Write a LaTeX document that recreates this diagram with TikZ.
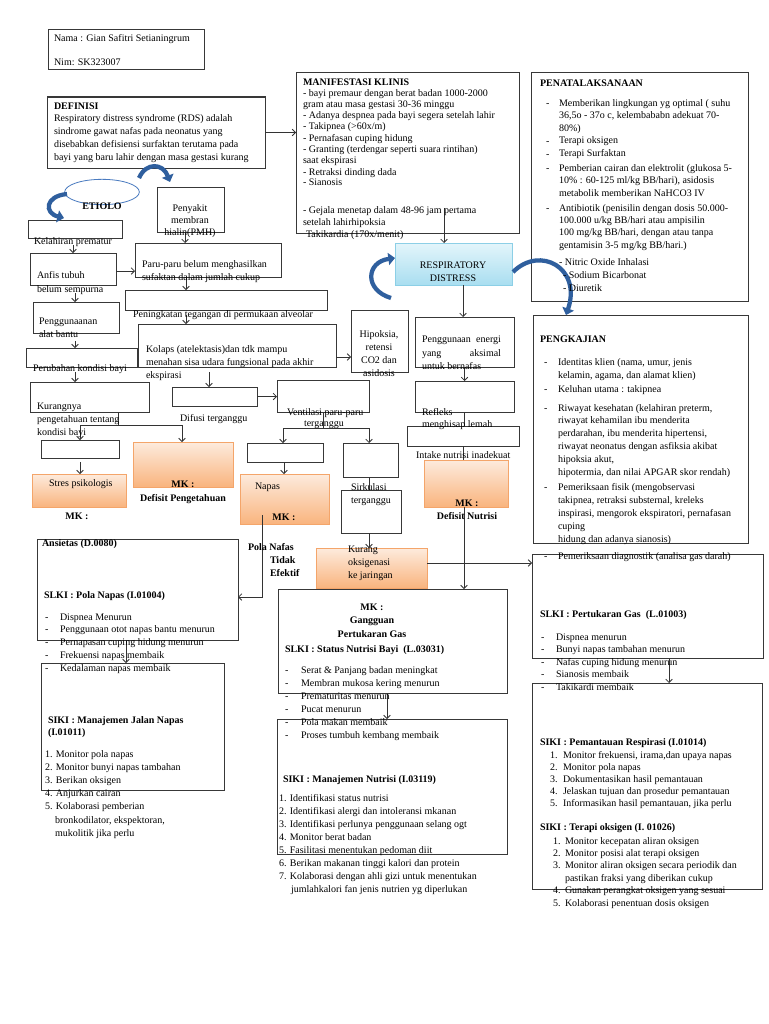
\documentclass[tikz,border=0pt]{standalone}
\usepackage{fontspec}
\setmainfont{Liberation Serif}
\usetikzlibrary{arrows.meta,shapes.geometric}
\definecolor{orgtop}{HTML}{FDEBDD}
\definecolor{orgbot}{HTML}{F9B47E}
\definecolor{orgline}{HTML}{F4A56A}
\definecolor{bluetop}{HTML}{E3F5FB}
\definecolor{bluebot}{HTML}{A9DEF0}
\definecolor{blueline}{HTML}{8CCFE6}
\definecolor{arcblue}{HTML}{2F5F9E}
\definecolor{ellblue}{HTML}{4A7BC0}
\tikzset{
  boxst/.style={draw=black!78, line width=0.75pt, inner sep=0pt, outer sep=0pt},
  orgbox/.style={draw=orgline, top color=orgtop, bottom color=orgbot},
  bluebox/.style={draw=blueline, top color=bluetop, bottom color=bluebot},
  txt/.style={anchor=base west, inner sep=0pt, outer sep=0pt, font=\fontsize{7.5}{9}\selectfont},
  ctr/.style={anchor=base},
  rgt/.style={anchor=base east},
  arr/.style={draw=black!80, line width=0.6pt, -{Straight Barb[length=2.5pt,width=5pt]}},
  ln/.style={draw=black!80, line width=0.6pt},
  bigarc/.style={draw=arcblue, line width=3.2pt, -{Triangle[length=5pt,width=9pt]}}
}
% box: [style]{name}{x1}{y1}{x2}{y2}
\newcommand\bx[6][]{\node[boxst,#1,minimum width={(#5-#3)*0.75pt},minimum height={(#6-#4)*0.75pt}] (#2) at ({(#3+#5)/2},{(#4+#6)/2}) {};}
% text lines: [style]{x}{first baseline}{spacing}{{line},{line}}
\newcommand\tl[5][]{\foreach \myl [count=\ii from 0] in {#5}{\node[txt,#1] at ({#2},{#3+\ii*#4}) {\myl};}}
\begin{document}
\begin{tikzpicture}[x=0.75pt,y=-0.75pt]
\useasboundingbox (0,0) rectangle (768,1024);
\fill[white] (0,0) rectangle (768,1024);

% ---------- boxes ----------
\bx{nama}{48}{30}{204}{70}
\bx{defn}{47}{97}{265}{168}
\bx{manif}{296}{73}{519}{233}
\bx{pena}{531}{73}{748}{301}
\bx[bluebox]{resp}{395}{243}{512}{285}
\bx{peny}{157}{187}{224}{232}
\node[ellipse, draw=ellblue, line width=0.6pt, minimum width=56pt, minimum height=19pt, inner sep=0pt] (etio) at (102,192) {};
\bx{kel}{28}{220}{122}{238}
\bx{anfis}{30}{253}{116}{285}
\bx{paru}{135}{243}{281}{277}
\bx{pening}{125}{290}{327}{310}
\bx{alat}{33}{302}{119}{333}
\bx{kolaps}{138}{324}{336}{367}
\bx{hip}{351}{310}{408}{372}
\bx{energi}{415}{317}{514}{367}
\bx{perub}{26}{348}{137}{367}
\bx{kurang}{30}{382}{149}{412}
\bx{difusi}{172}{387}{257}{406}
\bx{vent}{277}{380}{369}{412}
\bx{refl}{415}{381}{514}{412}
\bx{intake}{407}{426}{519}{446}
\bx{boxa}{41}{440}{119}{458}
\bx[orgbox]{defpeng}{133}{442}{233}{487}
\bx{boxb}{247}{443}{323}{462}
\bx{boxc}{343}{443}{398}{477}
\bx[orgbox]{defnut}{424}{460}{508}{507}
\bx[orgbox]{stres}{32}{474}{126}{507}
\bx[orgbox]{napas}{240}{474}{329}{524}
\bx{sirk}{341}{490}{401}{533}
\bx[orgbox]{kurox}{316}{548}{427}{588}
\bx{ansi}{37}{539}{238}{640}
\bx{pengk}{533}{315}{748}{543}
\bx{slkigas}{532}{554}{763}{658}
\bx{gang}{278}{589}{507}{693}
\bx{sikijn}{41}{663}{224}{790}
\bx{sikinut}{277}{719}{507}{854}
\bx{sikiresp}{532}{683}{762}{889}

% ---------- connectors ----------
\draw[arr] (defn.east) -- (defn.east -| manif.west);
\coordinate (m1) at (444,208);
\draw[arr] (m1) -- (m1 |- resp.north);
\coordinate (r1) at (463,285);
\draw[arr] (r1) -- (r1 |- energi.north);
\draw[arr] (energi.south) -- (refl.north);
\draw[ln] (refl.south) -- (refl.south |- intake.north);
\draw[ln] (intake.south) -- (intake.south |- defnut.north);
\coordinate (d1) at (464,507);
\draw[arr] (d1) -- (d1 |- gang.north);
\coordinate (g1) at (387,693);
\draw[arr] (g1) -- (g1 |- sikinut.north);
\coordinate (py1) at (185,232);
\draw[arr] (py1) -- (py1 |- paru.north);
\coordinate (k1) at (73,245);
\draw[arr] (k1) -- (k1 |- anfis.north);
\coordinate (a1) at (116,271);
\draw[arr] (a1) -- (a1 -| paru.west);
\coordinate (p1) at (186,278);
\draw[arr] (p1) -- (p1 |- pening.north);
\coordinate (p2) at (186,315);
\draw[arr] (p2) -- (p2 |- kolaps.north);
\coordinate (l1) at (75,293);
\draw[arr] (l1) -- (l1 |- alat.north);
\coordinate (l2) at (75,341);
\draw[arr] (l2) -- (l2 |- perub.north);
\coordinate (l3) at (75,372);
\draw[arr] (l3) -- (l3 |- kurang.north);
\coordinate (ks) at (118,412);
\coordinate (kj) at (118,425);
\coordinate (kl) at (80,425);
\coordinate (kr) at (182,425);
\draw[ln] (ks) -- (kj);
\draw[ln] (kl) -- (kr);
\draw[arr] (kl) -- (kl |- boxa.north);
\draw[arr] (kr) -- (kr |- defpeng.north);
\coordinate (s1) at (80,462);
\draw[arr] (s1) -- (s1 |- stres.north);
\coordinate (h1) at (336,357);
\draw[arr] (h1) -- (h1 -| hip.west);
\coordinate (f1) at (209,372);
\draw[arr] (f1) -- (f1 |- difusi.north);
\draw[arr] (difusi.east) -- (difusi.east -| vent.west);
\coordinate (vs) at (323,412);
\coordinate (vj) at (323,428);
\coordinate (vl) at (283,428);
\coordinate (vr) at (369,428);
\draw[ln] (vs) -- (vj);
\draw[ln] (vl) -- (vr);
\draw[arr] (vl) -- (vl |- boxb.north);
\draw[arr] (vr) -- (vr |- boxc.north);
\coordinate (b1) at (284,462);
\draw[arr] (b1) -- (b1 |- napas.north);
\coordinate (c1) at (369,477);
\draw[ln] (c1) -- (c1 |- sirk.north);
\coordinate (c2) at (369,533);
\draw[arr] (c2) -- (c2 |- kurox.north);
\coordinate (o1) at (427,563);
\draw[arr] (o1) -- (o1 -| slkigas.west);
\coordinate (n1) at (262,515);
\coordinate (n2) at (262,597);
\draw[arr] (n1) -- (n2) -- (n2 -| ansi.east);
\coordinate (an1) at (126,640);
\draw[arr] (an1) -- (an1 |- sikijn.north);
\coordinate (sg1) at (669,658);
\draw[arr] (sg1) -- (sg1 |- sikiresp.north);

% ---------- big blue curved arrows ----------
\draw[bigarc] (139,178) .. controls (146,162) and (163,163) .. (170,182);
\draw[bigarc] (67,194) .. controls (45,196) and (44,213) .. (64,218);
\draw[bigarc] (391,298) .. controls (364,290) and (366,262) .. (395,258);
\draw[bigarc] (513,272) .. controls (540,245) and (582,268) .. (566,315);

% ---------- texts ----------
\tl{54}{42}{23}{{Nama : Gian Safitri Setianingrum},{Nim: SK323007}}
\tl{54}{109}{0}{{\bfseries DEFINISI}}
\tl{54}{122}{12.7}{{Respiratory distress syndrome (RDS) adalah},{sindrome gawat nafas pada neonatus yang},{disebabkan defisiensi surfaktan terutama pada},{bayi yang baru lahir dengan masa gestasi kurang}}

\tl{303}{85}{0}{{\bfseries MANIFESTASI KLINIS}}
\tl{303}{96}{11.3}{{- bayi premaur dengan berat badan 1000-2000},{gram atau masa gestasi 30-36 minggu},{- Adanya despnea pada bayi segera setelah lahir},{- Takipnea (>60x/m)},{- Pernafasan cuping hidung},{- Granting (terdengar seperti suara rintihan)},{saat ekspirasi},{- Retraksi dinding dada}}
\tl{303}{185}{0}{{- Sianosis}}
\tl{303}{213}{12}{{- Gejala menetap dalam 48-96 jam pertama},{setelah lahirhipoksia}}
\tl{306}{237}{0}{{Takikardia (170x/menit)}}

\tl{540}{86}{0}{{\bfseries PENATALAKSANAAN}}
\foreach \yy in {106,144,157,171,211}{\node[txt] at (546,\yy) {-};}
\tl{559}{106}{12.6}{{Memberikan lingkungan yg optimal ( suhu},{36,5o - 37o c, kelembababn adekuat 70-},{80\%)},{Terapi oksigen},{Terapi Surfaktan}}
\tl{559}{171}{12.7}{{Pemberian cairan dan elektrolit (glukosa 5-},{10\% : 60-125 ml/kg BB/hari), asidosis},{metabolik memberikan NaHCO3 IV}}
\tl{559}{211}{12.4}{{Antibiotik (penisilin dengan dosis 50.000-},{100.000 u/kg BB/hari atau ampisilin},{100 mg/kg BB/hari, dengan atau tanpa},{gentamisin 3-5 mg/kg BB/hari.)}}
\tl{559}{265}{0}{{- Nitric Oxide Inhalasi}}
\tl{563}{278}{13}{{- Sodium Bicarbonat},{- Diuretik}}

\tl{540}{342}{0}{{\bfseries PENGKAJIAN}}
\foreach \yy in {365,392,411,490,559}{\node[txt] at (544,\yy) {-};}
\tl{558}{365}{13}{{Identitas klien (nama, umur, jenis},{kelamin, agama, dan alamat klien)}}
\tl{558}{392}{0}{{Keluhan utama : takipnea}}
\tl{558}{411}{12.8}{{Riwayat kesehatan (kelahiran preterm,},{riwayat kehamilan ibu menderita},{perdarahan, ibu menderita hipertensi,},{riwayat neonatus dengan asfiksia akibat},{hipoksia akut,},{hipotermia, dan nilai APGAR skor rendah)}}
\tl{558}{490}{13.2}{{Pemeriksaan fisik (mengobservasi},{takipnea, retraksi substernal, kreleks},{inspirasi, mengorok ekspiratori, pernafasan},{cuping},{hidung dan adanya sianosis)}}
\tl{558}{559}{0}{{Pemeriksaan diagnostik (analisa gas darah)}}

\tl{540}{617}{0}{{\bfseries SLKI : Pertukaran Gas\ \ (L.01003)}}
\tl{541}{640}{12.5}{-,-,-,-,-}
\tl{556}{640}{12.5}{{Dispnea menurun},{Bunyi napas tambahan menurun},{Nafas cuping hidung menurun},{Sianosis membaik},{Takikardi membaik}}

\tl{540}{745}{0}{{\bfseries SIKI : Pemantauan Respirasi (I.01014)}}
\tl{550}{758}{12.2}{1.,2.,3.,4.,5.}
\tl{563}{758}{12.2}{{Monitor frekuensi, irama,dan upaya napas},{Monitor pola napas},{Dokumentasikan hasil pemantauan},{Jelaskan tujuan dan prosedur pemantauan},{Informasikan hasil pemantauan, jika perlu}}
\tl{540}{830}{0}{{\bfseries SIKI : Terapi oksigen (I. 01026)}}
\tl{553}{844}{12.4}{1.,2.,3.}
\tl{553}{893.6}{12.4}{4.,5.}
\tl{565}{844}{12.4}{{Monitor kecepatan aliran oksigen},{Monitor posisi alat terapi oksigen},{Monitor aliran oksigen secara periodik dan},{pastikan fraksi yang diberikan cukup},{Gunakan perangkat oksigen yang sesuai},{Kolaborasi penentuan dosis oksigen}}

\tl[ctr]{372}{610}{13.5}{{\bfseries MK :},{\bfseries Gangguan},{\bfseries Pertukaran Gas}}
\tl{285}{652}{0}{{\bfseries SLKI : Status Nutrisi Bayi\ \ (L.03031)}}
\tl{285}{673}{13}{-,-,-,-,-,-}
\tl{301}{673}{13}{{Serat \& Panjang badan meningkat},{Membran mukosa kering menurun},{Prematuritas menurun},{Pucat menurun},{Pola makan membaik},{Proses tumbuh kembang membaik}}

\tl{283}{782}{0}{{\bfseries SIKI : Manajemen Nutrisi (I.03119)}}
\tl{279}{801}{13}{{1. Identifikasi status nutrisi},{2. Identifikasi alergi dan intoleransi mkanan},{3. Identifikasi perlunya penggunaan selang ogt},{4. Monitor berat badan},{5. Fasilitasi menentukan pedoman diit},{6. Berikan makanan tinggi kalori dan protein},{7. Kolaborasi dengan ahli gizi untuk menentukan}}
\tl{291}{892}{0}{{jumlahkalori fan jenis nutrien yg diperlukan}}

\tl{34}{244}{0}{{Kelahiran prematur}}
\tl{37}{278}{14}{{Anfis tubuh},{belum sempurna}}
\tl{39}{324}{13}{{Penggunaanan},{alat bantu}}
\tl{33}{371}{0}{{Perubahan kondisi bayi}}
\tl{37}{409}{13}{{Kurangnya},{pengetahuan tentang},{kondisi bayi}}
\tl{49}{486}{0}{{Stres psikologis}}
\tl[ctr]{77}{519}{0}{{\bfseries MK :}}
\tl[ctr]{183}{487}{14}{{\bfseries MK :},{\bfseries Defisit Pengetahuan}}

\tl{42}{546}{0}{{\bfseries Ansietas (D.0080)}}
\tl{44}{598}{0}{{\bfseries SLKI : Pola Napas (I.01004)}}
\tl{45}{620}{12.75}{-,-,-,-,-}
\tl{60}{620}{12.75}{{Dispnea Menurun},{Penggunaan otot napas bantu menurun},{Pernapasan cuping hidung menurun},{Frekuensi napas membaik},{Kedalaman napas membaik}}
\tl{48}{723}{12}{{\bfseries SIKI : Manajemen Jalan Napas},{\bfseries (I.01011)}}
\tl{45}{757}{13.2}{{1. Monitor pola napas},{2. Monitor bunyi napas tambahan},{3. Berikan oksigen},{4. Anjurkan cairan},{5. Kolaborasi pemberian}}
\tl{55}{823}{13}{{bronkodilator, ekspektoran,},{mukolitik jika perlu}}

\tl[ctr]{190}{211}{12}{{Penyakit},{membran},{hialin(PMH)}}
\tl[ctr]{102}{209}{0}{{\bfseries ETIOLO}}
\tl{142}{267}{13}{{Paru-paru belum menghasilkan},{sufaktan dalam jumlah cukup}}
\tl{133}{317}{0}{{Peningkatan tegangan di permukaan alveolar}}
\tl{146}{352}{13}{{Kolaps (atelektasis)dan tdk mampu},{menahan sisa udara fungsional pada akhir},{ekspirasi}}
\tl[ctr]{379}{337}{13}{{Hipoksia,},{retensi},{CO2 dan},{asidosis}}
\tl{180}{421}{0}{{Difusi terganggu}}
\tl{287}{415}{0}{{Ventilasi paru-paru}}
\tl{304}{426}{0}{{terganggu}}
\tl{255}{489}{0}{{Napas}}
\tl[ctr]{284}{520}{0}{{\bfseries MK :}}
\tl{248}{550}{0}{{\bfseries Pola Nafas}}
\tl{270}{563}{13}{{\bfseries Tidak},{\bfseries Efektif}}
\tl{351}{490}{13}{{Sirkulasi},{terganggu}}
\tl{348}{552}{13}{{Kurang},{oksigenasi},{ke jaringan}}
\tl[ctr]{453}{268}{13}{{RESPIRATORY},{DISTRESS}}
\tl{422}{342}{0}{{Penggunaan}}
\tl[rgt]{501}{342}{0}{{energi}}
\tl{422}{356}{0}{{yang}}
\tl[rgt]{501}{356}{0}{{aksimal}}
\tl{422}{369}{0}{{untuk bernafas}}
\tl{422}{415}{12}{{Refleks},{menghisap lemah}}
\tl{416}{458}{0}{{Intake nutrisi inadekuat}}
\tl[ctr]{467}{506}{13}{{\bfseries MK :},{\bfseries Defisit Nutrisi}}
\end{tikzpicture}
\end{document}
